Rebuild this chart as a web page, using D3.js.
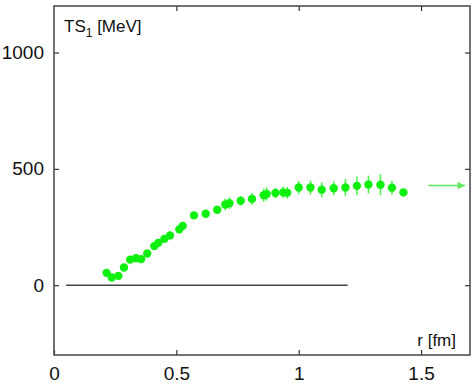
<!DOCTYPE html>
<html>
<head>
<meta charset="utf-8">
<script src="https://cdn.jsdelivr.net/npm/d3@7"></script>
<style>
  body { margin: 0; background: #fff; }
  text { font-family: "Liberation Sans", Arial, sans-serif; fill: #111; }
</style>
</head>
<body>
<div id="chart"></div>
<script>
// r [fm] positions of the lattice points
const rValues = [0.215, 0.236, 0.263, 0.286, 0.311, 0.335, 0.356, 0.381, 0.410, 0.426,
  0.451, 0.474, 0.512, 0.526, 0.572, 0.620, 0.667, 0.700, 0.717, 0.763,
  0.809, 0.857, 0.869, 0.905, 0.937, 0.953, 1.000, 1.048, 1.094, 1.143,
  1.191, 1.238, 1.285, 1.334, 1.381, 1.428];
// TS1 [MeV]
const tsValues = [53, 33, 40, 76, 110, 116, 112, 136, 168, 182,
  199, 214, 240, 255, 300, 307, 324, 347, 352, 363,
  371, 387, 392, 396, 399, 397, 420, 420, 410, 417,
  420, 427, 433, 432, 419, 399];
const tsErrors = [6, 6, 6, 6, 6, 6, 6, 7, 7, 7,
  8, 8, 9, 10, 10, 12, 14, 25, 25, 20,
  25, 28, 28, 22, 25, 25, 28, 30, 32, 30,
  36, 40, 38, 45, 30, 10];

const xTicks = [0, 0.5, 1, 1.5];
const yTicks = [0, 500, 1000];
const zeroLine = [0.05, 1.2];
const asymptote = { r0: 1.53, r1: 1.68, value: 428 };

const width = 474, height = 389;
const margin = { left: 54, right: 4, top: 6, bottom: 34 };

const svg = d3.select('#chart').append('svg')
  .attr('width', width)
  .attr('height', height);

const x = d3.scaleLinear().domain([0, 1.7]).range([margin.left, width - margin.right]);
const y = d3.scaleLinear().domain([-300, 1200]).range([height - margin.bottom, margin.top]);

// ticks on all four sides, pointing inward
const tickLen = 5;
svg.append('g')
  .attr('transform', `translate(0,${y(-300)})`)
  .call(d3.axisBottom(x).tickValues(xTicks).tickSize(-tickLen).tickPadding(12).tickFormat(d3.format('')))
  .call(g => g.select('.domain').remove());
svg.append('g')
  .attr('transform', `translate(0,${y(1200)})`)
  .call(d3.axisTop(x).tickValues(xTicks.slice(1)).tickSize(-tickLen).tickFormat(''))
  .call(g => g.select('.domain').remove());
svg.append('g')
  .attr('transform', `translate(${x(0)},0)`)
  .call(d3.axisLeft(y).tickValues(yTicks).tickSize(-tickLen).tickPadding(10).tickFormat(d3.format('')))
  .call(g => g.select('.domain').remove());
svg.append('g')
  .attr('transform', `translate(${x(1.7)},0)`)
  .call(d3.axisRight(y).tickValues(yTicks).tickSize(-tickLen).tickFormat(''))
  .call(g => g.select('.domain').remove());

svg.selectAll('.tick line').attr('stroke', '#333').attr('stroke-width', 1.2);
svg.selectAll('.tick text').style('font-size', '19px').attr('fill', '#111');

// frame
svg.append('rect')
  .attr('x', x(0)).attr('y', y(1200))
  .attr('width', x(1.7) - x(0)).attr('height', y(-300) - y(1200))
  .attr('fill', 'none').attr('stroke', '#444').attr('stroke-width', 1.5);

// zero line
svg.append('line')
  .attr('x1', x(zeroLine[0])).attr('x2', x(zeroLine[1]))
  .attr('y1', y(0)).attr('y2', y(0))
  .attr('stroke', '#444').attr('stroke-width', 1.5);

const points = rValues.map((r, i) => ({ r: r, v: tsValues[i], e: tsErrors[i] }));
const green = '#10f010';

svg.append('g').selectAll('line')
  .data(points)
  .enter().append('line')
  .attr('x1', d => x(d.r)).attr('x2', d => x(d.r))
  .attr('y1', d => y(d.v - d.e)).attr('y2', d => y(d.v + d.e))
  .attr('stroke', green).attr('stroke-width', 1.6).attr('stroke-opacity', 0.75);

svg.append('g').selectAll('circle')
  .data(points)
  .enter().append('circle')
  .attr('cx', d => x(d.r)).attr('cy', d => y(d.v))
  .attr('r', 4.2)
  .attr('fill', green);

// asymptotic arrow
svg.append('defs').append('marker')
  .attr('id', 'head')
  .attr('viewBox', '0 0 10 10')
  .attr('refX', 10).attr('refY', 5)
  .attr('markerWidth', 6).attr('markerHeight', 5)
  .attr('orient', 'auto')
  .append('path').attr('d', 'M0,0 L10,5 L0,10 Z').attr('fill', '#5ee85e');

svg.append('line')
  .attr('x1', x(asymptote.r0)).attr('x2', x(asymptote.r1))
  .attr('y1', y(asymptote.value)).attr('y2', y(asymptote.value))
  .attr('stroke', '#5ee85e').attr('stroke-width', 1.5)
  .attr('marker-end', 'url(#head)');

// labels
const ylab = svg.append('text')
  .attr('x', 64).attr('y', 32)
  .style('font-size', '17px');
ylab.append('tspan').text('TS');
ylab.append('tspan').attr('dy', 5).style('font-size', '12px').text('1');
ylab.append('tspan').attr('dy', -5).text(' [MeV]');

svg.append('text')
  .attr('x', 456).attr('y', 346)
  .attr('text-anchor', 'end')
  .style('font-size', '17px')
  .text('r [fm]');
</script>
</body>
</html>
